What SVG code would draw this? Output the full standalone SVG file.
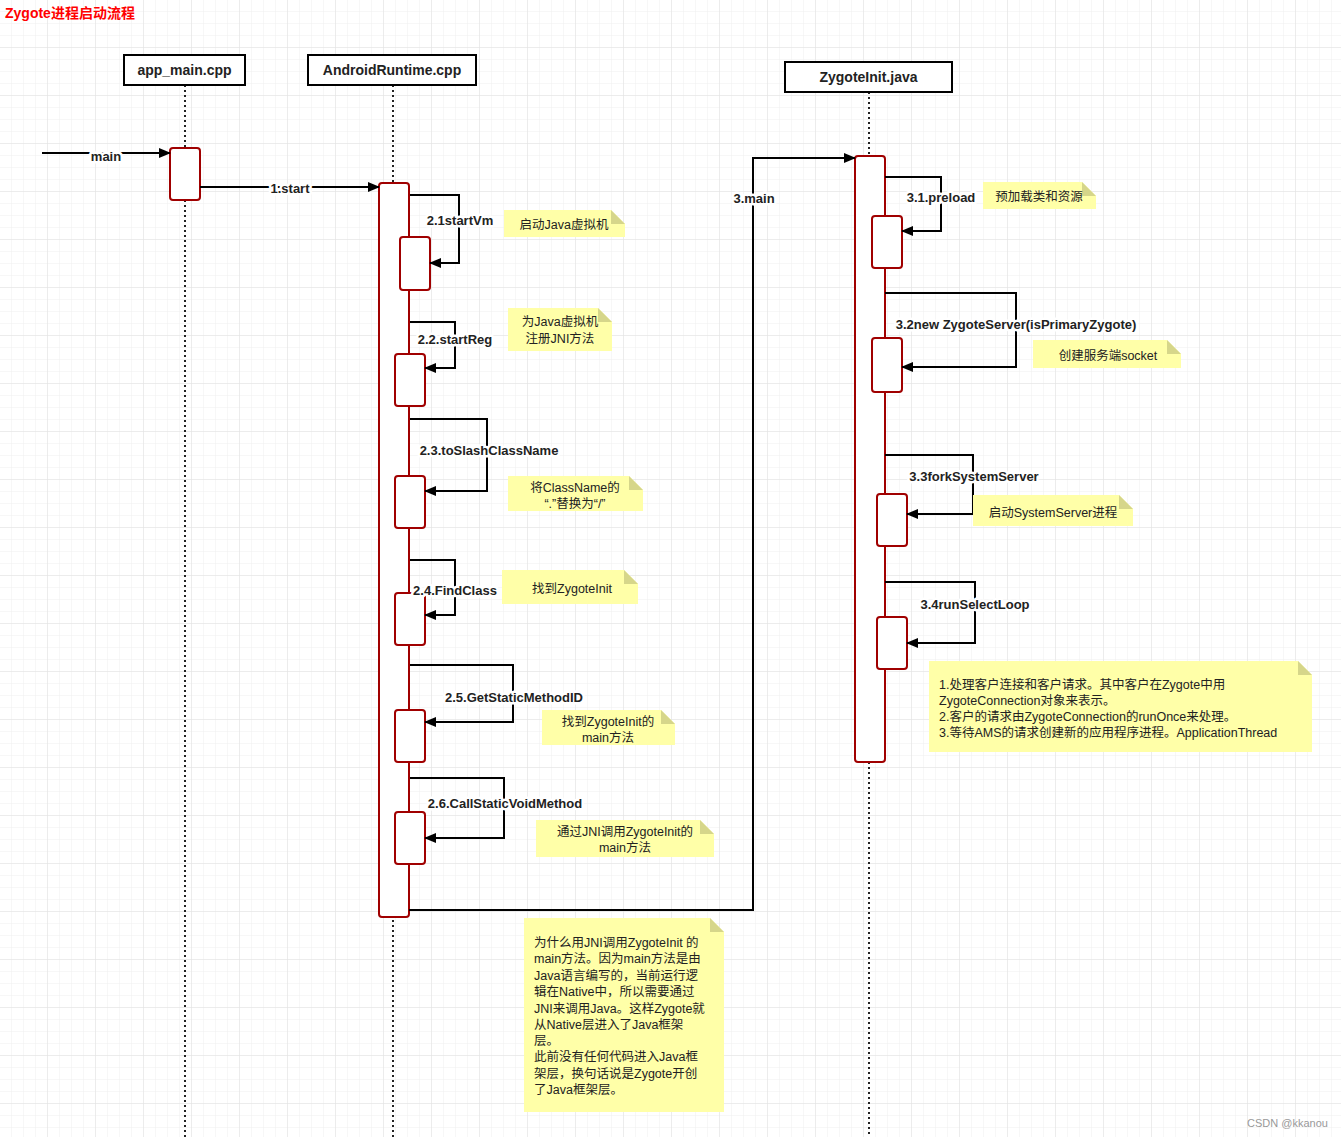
<svg xmlns="http://www.w3.org/2000/svg" width="1341" height="1137" viewBox="0 0 1341 1137">
<defs>
<pattern id="g" width="12" height="12" patternUnits="userSpaceOnUse"><path d="M12 0V12H0" fill="none" stroke="#efefef" stroke-width="1"/></pattern>
<pattern id="G" width="48" height="48" patternUnits="userSpaceOnUse"><rect width="48" height="48" fill="url(#g)"/><path d="M48 0V48H0" fill="none" stroke="#e2e2e2" stroke-width="1"/></pattern>
<marker id="a" markerWidth="12" markerHeight="10" refX="11" refY="5" orient="auto" markerUnits="userSpaceOnUse"><path d="M0 0L12 5L0 10Z" fill="#000"/></marker>
</defs>
<style>
text{font-family:"Liberation Sans","Noto Sans CJK SC",sans-serif}
.hd{fill:#fff;stroke:#000;stroke-width:2}
.ht{font-size:14px;font-weight:bold;text-anchor:middle;fill:#222}
.ll{stroke:#222;stroke-width:2;stroke-dasharray:2 3}
.act{fill:#fff;stroke:#a00000;stroke-width:2}
.c{fill:none;stroke:#000;stroke-width:2;marker-end:url(#a)}
.lb{font-size:13px;font-weight:bold;fill:#222;text-anchor:middle;paint-order:stroke;stroke:#fff;stroke-width:5px;stroke-linejoin:round}
.nt{fill:#ffffa8}
.nc{fill:#d6d68a}
.n{font-size:12.5px;fill:#222}
</style>
<rect width="1341" height="1137" fill="#fff"/>
<rect width="1341" height="1137" fill="url(#G)"/>
<text x="5" y="18" font-size="14" font-weight="bold" fill="#f00">Zygote进程启动流程</text>

<g id="lifelines">
<line class="ll" x1="185" y1="85" x2="185" y2="1137"/>
<line class="ll" x1="393" y1="85" x2="393" y2="1137"/>
<line class="ll" x1="869" y1="92" x2="869" y2="1137"/>
</g>
<g id="app_main"><rect class="hd" x="124" y="55" width="121" height="30"/><text class="ht" x="184.5" y="75">app_main.cpp</text></g>
<g id="runtime"><rect class="hd" x="308" y="55" width="168" height="30"/><text class="ht" x="392" y="75">AndroidRuntime.cpp</text></g>
<g id="zygoteinit"><rect class="hd" x="785" y="62" width="167" height="30"/><text class="ht" x="868.5" y="82">ZygoteInit.java</text></g>

<g id="activations">
<rect class="act" x="170" y="148" width="30" height="52" rx="3"/>
<rect class="act" x="379" y="183" width="30" height="734" rx="3"/>
<rect class="act" x="400" y="237" width="30" height="53" rx="3"/>
<rect class="act" x="395" y="354" width="30" height="52" rx="3"/>
<rect class="act" x="395" y="476" width="30" height="52" rx="3"/>
<rect class="act" x="395" y="593" width="30" height="52" rx="3"/>
<rect class="act" x="395" y="710" width="30" height="52" rx="3"/>
<rect class="act" x="395" y="812" width="30" height="52" rx="3"/>
<rect class="act" x="855" y="156" width="30" height="606" rx="3"/>
<rect class="act" x="872" y="216" width="30" height="52" rx="3"/>
<rect class="act" x="872" y="338" width="30" height="54" rx="3"/>
<rect class="act" x="877" y="494" width="30" height="52" rx="3"/>
<rect class="act" x="877" y="617" width="30" height="52" rx="3"/>
</g>

<g id="connectors">
<path class="c" d="M42 153H170"/>
<path class="c" d="M200 187H379"/>
<path class="c" d="M410 195H459V263H430"/>
<path class="c" d="M410 322H455V368H425"/>
<path class="c" d="M410 419H487V491H425"/>
<path class="c" d="M410 560H455V615H425"/>
<path class="c" d="M410 665H513V722H425"/>
<path class="c" d="M410 778H504V838H425"/>
<path class="c" d="M409 910H753V158H855"/>
<path class="c" d="M885 177H941V231H902"/>
<path class="c" d="M885 293H1016V367H902"/>
<path class="c" d="M885 455H973V514H907"/>
<path class="c" d="M885 582H975V643H907"/>
<text class="lb" x="106" y="161" font-size="16">main</text>
<text class="lb" x="290" y="193">1.start</text>
<text class="lb" x="460" y="225">2.1startVm</text>
<text class="lb" x="455" y="344">2.2.startReg</text>
<text class="lb" x="489" y="455">2.3.toSlashClassName</text>
<text class="lb" x="455" y="595">2.4.FindClass</text>
<text class="lb" x="514" y="702">2.5.GetStaticMethodID</text>
<text class="lb" x="505" y="808">2.6.CallStaticVoidMethod</text>
<text class="lb" x="754" y="203">3.main</text>
<text class="lb" x="941" y="202">3.1.preload</text>
<text class="lb" x="1016" y="329">3.2new ZygoteServer(isPrimaryZygote)</text>
<text class="lb" x="974" y="481">3.3forkSystemServer</text>
<text class="lb" x="975" y="609">3.4runSelectLoop</text>
</g>

<g id="note1"><path class="nt" d="M504 210H611L625 224V237H504Z"/><path class="nc" d="M611 210L625 224H611Z"/><text class="n" x="564" y="229" text-anchor="middle">启动Java虚拟机</text></g>
<g id="note2"><path class="nt" d="M508 308H598L612 322V351H508Z"/><path class="nc" d="M598 308L612 322H598Z"/><text class="n" x="560" y="326" text-anchor="middle">为Java虚拟机</text><text class="n" x="560" y="343" text-anchor="middle">注册JNI方法</text></g>
<g id="note3"><path class="nt" d="M508 476H629L643 490V511H508Z"/><path class="nc" d="M629 476L643 490H629Z"/><text class="n" x="575" y="492" text-anchor="middle">将ClassName的</text><text class="n" x="575" y="508" text-anchor="middle">“.”替换为“/”</text></g>
<g id="note4"><path class="nt" d="M502 570H624L638 584V604H502Z"/><path class="nc" d="M624 570L638 584H624Z"/><text class="n" x="572" y="593" text-anchor="middle">找到ZygoteInit</text></g>
<g id="note5"><path class="nt" d="M542 710H661L675 724V745H542Z"/><path class="nc" d="M661 710L675 724H661Z"/><text class="n" x="608" y="726" text-anchor="middle">找到ZygoteInit的</text><text class="n" x="608" y="742" text-anchor="middle">main方法</text></g>
<g id="note6"><path class="nt" d="M536 820H700L714 834V857H536Z"/><path class="nc" d="M700 820L714 834H700Z"/><text class="n" x="625" y="836" text-anchor="middle">通过JNI调用ZygoteInit的</text><text class="n" x="625" y="852" text-anchor="middle">main方法</text></g>
<g id="note7"><path class="nt" d="M983 182H1082L1096 196V209H983Z"/><path class="nc" d="M1082 182L1096 196H1082Z"/><text class="n" x="1039" y="201" text-anchor="middle">预加载类和资源</text></g>
<g id="note8"><path class="nt" d="M1033 340H1167L1181 354V368H1033Z"/><path class="nc" d="M1167 340L1181 354H1167Z"/><text class="n" x="1108" y="360" text-anchor="middle">创建服务端socket</text></g>
<g id="note9"><path class="nt" d="M973 495H1119L1133 509V526H973Z"/><path class="nc" d="M1119 495L1133 509H1119Z"/><text class="n" x="1053" y="517" text-anchor="middle">启动SystemServer进程</text></g>
<g id="note10"><path class="nt" d="M929 661H1298L1312 675V752H929Z"/><path class="nc" d="M1298 661L1312 675H1298Z"/>
<text class="n" x="939" y="689">1.处理客户连接和客户请求。其中客户在Zygote中用</text>
<text class="n" x="939" y="705">ZygoteConnection对象来表示。</text>
<text class="n" x="939" y="721">2.客户的请求由ZygoteConnection的runOnce来处理。</text>
<text class="n" x="939" y="737">3.等待AMS的请求创建新的应用程序进程。ApplicationThread</text></g>
<g id="note11"><path class="nt" d="M524 918H710L724 932V1112H524Z"/><path class="nc" d="M710 918L724 932H710Z"/>
<text class="n" x="534" y="947">为什么用JNI调用ZygoteInit 的</text>
<text class="n" x="534" y="963">main方法。因为main方法是由</text>
<text class="n" x="534" y="980">Java语言编写的，当前运行逻</text>
<text class="n" x="534" y="996">辑在Native中，所以需要通过</text>
<text class="n" x="534" y="1013">JNI来调用Java。这样Zygote就</text>
<text class="n" x="534" y="1029">从Native层进入了Java框架</text>
<text class="n" x="534" y="1045">层。</text>
<text class="n" x="534" y="1061">此前没有任何代码进入Java框</text>
<text class="n" x="534" y="1078">架层，换句话说是Zygote开创</text>
<text class="n" x="534" y="1094">了Java框架层。</text></g>
<text x="1247" y="1127" font-size="11" fill="#999">CSDN @kkanou</text>
</svg>
